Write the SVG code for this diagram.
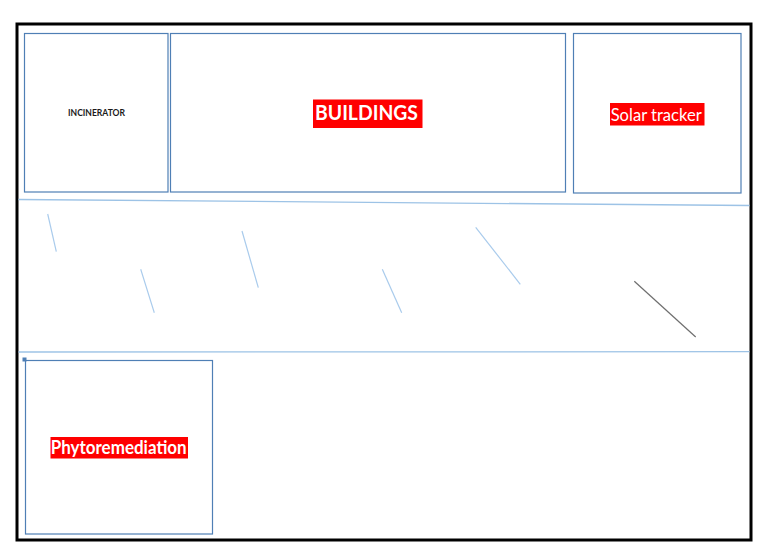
<svg xmlns="http://www.w3.org/2000/svg" width="768" height="543" viewBox="0 0 768 543">
<style>
.box{fill:#ffffff;stroke:#4f7fb5;stroke-width:1.2}
.lab{fill:#ff0000}
.t{font-family:Lato,"Liberation Sans",sans-serif;fill:#ffffff}
.hl{stroke:#9dc3e6;stroke-width:1.3;fill:none}
.st{stroke:#a9cbec;stroke-width:1.2;fill:none}
</style>
<rect x="0" y="0" width="768" height="543" fill="#ffffff"/>
<rect id="frame" x="17" y="24" width="734" height="516" fill="#ffffff" stroke="#000000" stroke-width="3"/>
<g id="incinerator">
<rect class="box" x="24.5" y="33.5" width="143.5" height="158.5"/>
<text x="96.5" y="116" text-anchor="middle" font-family="Lato,'Liberation Sans',sans-serif" font-weight="bold" font-size="9" fill="#1a1a1a" textLength="57" lengthAdjust="spacingAndGlyphs">INCINERATOR</text>
</g>
<g id="buildings">
<rect class="box" x="170.5" y="33.5" width="395" height="158.5"/>
<rect class="lab" x="313" y="99.5" width="109.5" height="28.5"/>
<text class="t" x="366.5" y="120" text-anchor="middle" font-weight="bold" font-size="20.5" textLength="103" lengthAdjust="spacingAndGlyphs">BUILDINGS</text>
</g>
<g id="solar">
<rect class="box" x="573.5" y="33.5" width="167.5" height="159.5"/>
<rect class="lab" x="610" y="103" width="94.5" height="22.5"/>
<text class="t" x="656.2" y="120.7" text-anchor="middle" font-size="17.5" textLength="91" lengthAdjust="spacingAndGlyphs">Solar tracker</text>
</g>
<g id="phyto">
<rect class="box" x="25.5" y="360.5" width="187" height="173.5"/>
<rect x="22.5" y="357.5" width="4" height="4" fill="#4f7fb5"/>
<rect class="lab" x="50.5" y="437" width="137.5" height="21.5"/>
<text class="t" x="118.7" y="453.7" text-anchor="middle" font-weight="bold" font-size="18" textLength="136" lengthAdjust="spacingAndGlyphs">Phytoremediation</text>
</g>
<g id="connectors">
<line class="hl" x1="18.5" y1="199.5" x2="749.5" y2="205.5"/>
<line class="hl" x1="18.5" y1="352" x2="749.5" y2="351.7"/>
<line class="st" x1="47.7" y1="214" x2="56.3" y2="251.7"/>
<line class="st" x1="140.7" y1="269.3" x2="154.3" y2="312.7"/>
<line class="st" x1="242" y1="231" x2="258.3" y2="287.7"/>
<line class="st" x1="382.3" y1="269.3" x2="401.7" y2="312.7"/>
<line class="st" x1="475.7" y1="227.3" x2="520.3" y2="284.3"/>
<line x1="634.3" y1="281.3" x2="695.7" y2="337" stroke="#6e6e6e" stroke-width="1.2"/>
</g>
</svg>
